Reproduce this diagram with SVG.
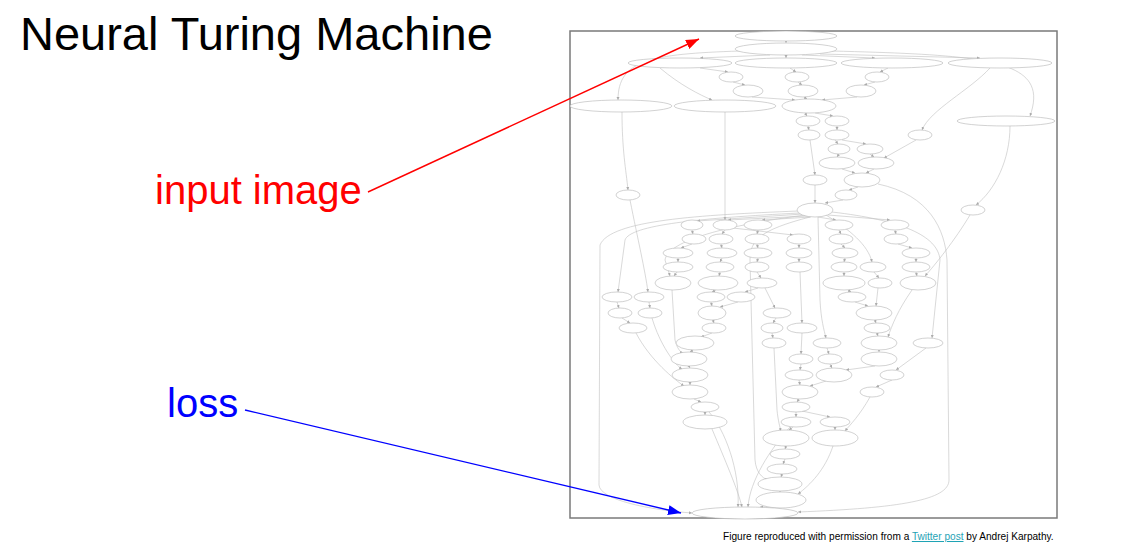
<svg xmlns="http://www.w3.org/2000/svg" width="1143" height="559" viewBox="0 0 1143 559">
<style>
.t{font-family:"Liberation Sans",Arial,sans-serif}
.nd ellipse{fill:#fff;stroke:#b3b3b3;stroke-width:0.6}
.ed path{fill:none;stroke:#c0c0c0;stroke-width:0.6;marker-end:url(#ah)}
</style>
<defs>
<marker id="ah" markerWidth="4" markerHeight="4" refX="3" refY="2" orient="auto" markerUnits="userSpaceOnUse"><path d="M0,0.5 L3,2 L0,3.5z" fill="#aaa"/></marker>
<marker id="ar" markerWidth="14" markerHeight="10" refX="13" refY="5" orient="auto" markerUnits="userSpaceOnUse"><path d="M0,0 L13,5 L0,10z" fill="#ff0000"/></marker>
<marker id="ab" markerWidth="14" markerHeight="10" refX="13" refY="5" orient="auto" markerUnits="userSpaceOnUse"><path d="M0,0 L13,5 L0,10z" fill="#0000ff"/></marker>
</defs>
<rect width="1143" height="559" fill="#fff"/>
<text class="t" x="20" y="50" font-size="47">Neural Turing Machine</text>
<rect x="570" y="31" width="487" height="487" fill="#fff" stroke="#7a7a7a" stroke-width="1.5"/>
<g id="connectors" class="ed">
<path d="M786 41 L786 43"/>
<path d="M770 55 L700 58"/>
<path d="M786 55 L786 58"/>
<path d="M802 55 L875 58"/>
<path d="M820 54 L980 58"/>
<path d="M740 51 C650 54,618 60,618 100"/>
<path d="M832 51 C990 55,1050 60,1030 116"/>
<path d="M700 68 L728 72"/>
<path d="M660 68 C680 85,700 95,712 100"/>
<path d="M790 68 L796 72"/>
<path d="M888 68 L880 72"/>
<path d="M990 68 C970 90,930 110,922 130"/>
<path d="M733 82 L745 85"/>
<path d="M798 82 L802 85"/>
<path d="M875 82 L864 85"/>
<path d="M752 97 L795 100"/>
<path d="M804 97 L807 99"/>
<path d="M857 97 L822 100"/>
<path d="M622 112 C622 150,626 170,628 190"/>
<path d="M725 112 L725 220"/>
<path d="M805 113 L807 116"/>
<path d="M815 113 L833 116"/>
<path d="M808 126 L809 130"/>
<path d="M837 126 L837 130"/>
<path d="M810 140 L815 175"/>
<path d="M835 140 L838 144"/>
<path d="M842 140 L866 144"/>
<path d="M916 140 L884 158"/>
<path d="M839 154 L837 157"/>
<path d="M870 154 L874 157"/>
<path d="M842 169 L855 173"/>
<path d="M874 169 L866 173"/>
<path d="M858 187 L849 190"/>
<path d="M878 184 C930 195,945 230,947 260 L949 480 C949 500,900 508,798 512"/>
<path d="M843 200 L825 203"/>
<path d="M815 185 L815 203"/>
<path d="M1010 126 C1010 160,995 190,976 205"/>
<path d="M970 215 C955 240,935 265,925 276"/>
<path d="M803 214 L697 221"/>
<path d="M808 216 L728 220"/>
<path d="M811 217 L762 220"/>
<path d="M818 217 L836 220"/>
<path d="M828 215 L890 220"/>
<path d="M826 215 C850 230,868 245,872 262"/>
<path d="M798 211 C700 215,610 220,600 245 L599 485 C600 500,650 510,692 513"/>
<path d="M800 213 C700 218,630 225,625 240 L618 292"/>
<path d="M805 215 C730 225,668 240,665 260 L670 276"/>
<path d="M810 217 C760 230,750 240,750 260 L755 460 C756 472,762 478,768 480"/>
<path d="M832 212 C900 220,938 235,940 260 L932 338"/>
<path d="M818 217 L820 300 C821 320,824 330,826 338"/>
<path d="M630 200 C638 240,645 270,648 292"/>
<path d="M692 230 L693 234"/>
<path d="M725 230 L722 234"/>
<path d="M758 230 L757 234"/>
<path d="M733 228 L793 235"/>
<path d="M839 230 L841 234"/>
<path d="M895 230 L896 234"/>
<path d="M692 244 L681 248"/>
<path d="M721 244 L722 248"/>
<path d="M757 244 L758 248"/>
<path d="M799 244 L799 248"/>
<path d="M841 244 L845 248"/>
<path d="M898 244 L912 248"/>
<path d="M678 258 L678 262"/>
<path d="M722 258 L720 262"/>
<path d="M758 258 L757 262"/>
<path d="M799 258 L799 262"/>
<path d="M845 258 L844 262"/>
<path d="M916 258 L916 262"/>
<path d="M677 272 L674 276"/>
<path d="M720 272 L719 276"/>
<path d="M757 272 L761 278"/>
<path d="M844 272 L844 276"/>
<path d="M874 272 L879 278"/>
<path d="M916 272 L917 276"/>
<path d="M800 272 L802 323"/>
<path d="M716 290 L712 292"/>
<path d="M758 288 L745 292"/>
<path d="M765 288 L775 308"/>
<path d="M848 290 L851 292"/>
<path d="M878 288 L876 306"/>
<path d="M912 290 C898 310,892 325,888 337"/>
<path d="M617 302 L619 308"/>
<path d="M649 302 L650 308"/>
<path d="M711 302 L712 306"/>
<path d="M738 302 L720 307"/>
<path d="M855 302 L868 306"/>
<path d="M622 318 L630 323"/>
<path d="M636 333 C650 360,675 380,684 386"/>
<path d="M652 318 C660 345,675 365,682 369"/>
<path d="M672 290 L675 340 C677 348,680 352,683 353"/>
<path d="M713 320 L714 323"/>
<path d="M712 333 L701 337"/>
<path d="M776 318 L773 323"/>
<path d="M772 333 L773 338"/>
<path d="M875 320 L876 323"/>
<path d="M877 333 L878 336"/>
<path d="M774 348 L777 410 C778 420,780 428,781 431"/>
<path d="M802 333 L801 354"/>
<path d="M827 348 L829 354"/>
<path d="M926 348 L896 370"/>
<path d="M693 350 L690 352"/>
<path d="M879 350 L879 352"/>
<path d="M689 366 L690 368"/>
<path d="M801 364 L800 370"/>
<path d="M830 364 L832 368"/>
<path d="M875 366 L846 370"/>
<path d="M690 382 L690 385"/>
<path d="M799 380 L800 385"/>
<path d="M826 381 L810 386"/>
<path d="M892 380 L876 387"/>
<path d="M694 399 L701 402"/>
<path d="M799 399 L797 402"/>
<path d="M870 397 C860 415,850 425,845 431"/>
<path d="M705 412 L705 415"/>
<path d="M796 412 L796 417"/>
<path d="M802 411 L830 417"/>
<path d="M709 412 C725 430,740 470,738 507"/>
<path d="M712 429 C725 460,738 490,742 507"/>
<path d="M793 427 L789 430"/>
<path d="M835 427 L835 430"/>
<path d="M790 427 C770 450,750 480,748 507"/>
<path d="M786 446 L785 449"/>
<path d="M785 459 L783 464"/>
<path d="M782 474 L781 477"/>
<path d="M780 491 L780 492"/>
<path d="M833 446 C825 470,810 485,798 494"/>
<path d="M772 507 L760 507"/>
</g>
<g class="nd">
<g id="a1"><ellipse cx="786" cy="36" rx="51" ry="5"/></g>
<g id="a2"><ellipse cx="786" cy="49" rx="51" ry="6"/></g>
<g id="b1"><ellipse cx="680" cy="63" rx="52" ry="5"/></g>
<g id="b2"><ellipse cx="786" cy="63" rx="51" ry="5"/></g>
<g id="b3"><ellipse cx="892" cy="63" rx="51" ry="5"/></g>
<g id="b4"><ellipse cx="1000" cy="63" rx="52" ry="5"/></g>
<g id="c1"><ellipse cx="731" cy="77" rx="12" ry="5"/></g>
<g id="c2"><ellipse cx="797" cy="77" rx="12" ry="5"/></g>
<g id="c3"><ellipse cx="877" cy="77" rx="12" ry="5"/></g>
<g id="d1"><ellipse cx="748" cy="91" rx="15" ry="6"/></g>
<g id="d2"><ellipse cx="803" cy="91" rx="15" ry="6"/></g>
<g id="d3"><ellipse cx="861" cy="91" rx="15" ry="6"/></g>
<g id="e1"><ellipse cx="621" cy="106" rx="51" ry="6"/></g>
<g id="e2"><ellipse cx="725" cy="106" rx="51" ry="6"/></g>
<g id="e3"><ellipse cx="809" cy="106" rx="27" ry="7"/></g>
<g id="f1"><ellipse cx="808" cy="121" rx="12" ry="5"/></g>
<g id="f2"><ellipse cx="837" cy="121" rx="12" ry="5"/></g>
<g id="f3"><ellipse cx="1006" cy="121" rx="49" ry="5"/></g>
<g id="g1"><ellipse cx="809" cy="135" rx="11" ry="5"/></g>
<g id="g2"><ellipse cx="837" cy="135" rx="12" ry="5"/></g>
<g id="g3"><ellipse cx="920" cy="135" rx="12" ry="5"/></g>
<g id="h1"><ellipse cx="839" cy="149" rx="11" ry="5"/></g>
<g id="h2"><ellipse cx="870" cy="149" rx="13" ry="5"/></g>
<g id="i1"><ellipse cx="837" cy="163" rx="18" ry="6"/></g>
<g id="i2"><ellipse cx="876" cy="163" rx="18" ry="6"/></g>
<g id="j1"><ellipse cx="815" cy="180" rx="12" ry="5"/></g>
<g id="j2"><ellipse cx="862" cy="180" rx="18" ry="7"/></g>
<g id="k1"><ellipse cx="628" cy="195" rx="12" ry="5"/></g>
<g id="k2"><ellipse cx="846" cy="195" rx="11" ry="5"/></g>
<g id="l1"><ellipse cx="815" cy="210" rx="18" ry="7"/></g>
<g id="l2"><ellipse cx="973" cy="210" rx="12" ry="5"/></g>
<g id="m1"><ellipse cx="692" cy="225" rx="11" ry="5"/></g>
<g id="m2"><ellipse cx="725" cy="225" rx="12" ry="5"/></g>
<g id="m3"><ellipse cx="758" cy="225" rx="14" ry="5"/></g>
<g id="m4"><ellipse cx="839" cy="225" rx="14" ry="5"/></g>
<g id="m5"><ellipse cx="895" cy="225" rx="14" ry="5"/></g>
<g id="o1"><ellipse cx="694" cy="239" rx="12" ry="5"/></g>
<g id="o2"><ellipse cx="721" cy="239" rx="12" ry="5"/></g>
<g id="o3"><ellipse cx="757" cy="239" rx="12" ry="5"/></g>
<g id="o4"><ellipse cx="799" cy="239" rx="12" ry="5"/></g>
<g id="o5"><ellipse cx="841" cy="239" rx="12" ry="5"/></g>
<g id="o6"><ellipse cx="896" cy="239" rx="12" ry="5"/></g>
<g id="p1"><ellipse cx="678" cy="253" rx="15" ry="5"/></g>
<g id="p2"><ellipse cx="722" cy="253" rx="15" ry="5"/></g>
<g id="p3"><ellipse cx="758" cy="253" rx="14" ry="5"/></g>
<g id="p4"><ellipse cx="799" cy="253" rx="13" ry="5"/></g>
<g id="p5"><ellipse cx="845" cy="253" rx="13" ry="5"/></g>
<g id="p6"><ellipse cx="916" cy="253" rx="14" ry="5"/></g>
<g id="q1"><ellipse cx="678" cy="267" rx="15" ry="5"/></g>
<g id="q2"><ellipse cx="720" cy="267" rx="14" ry="5"/></g>
<g id="q3"><ellipse cx="757" cy="267" rx="12" ry="5"/></g>
<g id="q4"><ellipse cx="799" cy="267" rx="13" ry="5"/></g>
<g id="q5"><ellipse cx="844" cy="267" rx="13" ry="5"/></g>
<g id="q6"><ellipse cx="873" cy="267" rx="13" ry="5"/></g>
<g id="q7"><ellipse cx="916" cy="267" rx="14" ry="5"/></g>
<g id="r1"><ellipse cx="673" cy="283" rx="18" ry="7"/></g>
<g id="r2"><ellipse cx="718" cy="283" rx="20" ry="7"/></g>
<g id="r3"><ellipse cx="762" cy="283" rx="15" ry="5"/></g>
<g id="r4"><ellipse cx="844" cy="283" rx="21" ry="7"/></g>
<g id="r5"><ellipse cx="880" cy="283" rx="12" ry="5"/></g>
<g id="r6"><ellipse cx="918" cy="283" rx="18" ry="7"/></g>
<g id="s1"><ellipse cx="617" cy="297" rx="15" ry="5"/></g>
<g id="s2"><ellipse cx="649" cy="297" rx="15" ry="5"/></g>
<g id="s3"><ellipse cx="711" cy="297" rx="14" ry="5"/></g>
<g id="s4"><ellipse cx="741" cy="297" rx="14" ry="5"/></g>
<g id="s5"><ellipse cx="852" cy="297" rx="14" ry="5"/></g>
<g id="t1"><ellipse cx="620" cy="313" rx="12" ry="5"/></g>
<g id="t2"><ellipse cx="650" cy="313" rx="12" ry="5"/></g>
<g id="t3"><ellipse cx="712" cy="313" rx="14" ry="7"/></g>
<g id="t4"><ellipse cx="777" cy="313" rx="14" ry="5"/></g>
<g id="t5"><ellipse cx="874" cy="313" rx="18" ry="7"/></g>
<g id="u1"><ellipse cx="633" cy="328" rx="14" ry="5"/></g>
<g id="u2"><ellipse cx="714" cy="328" rx="12" ry="5"/></g>
<g id="u3"><ellipse cx="772" cy="328" rx="11" ry="5"/></g>
<g id="u4"><ellipse cx="802" cy="328" rx="15" ry="5"/></g>
<g id="u5"><ellipse cx="877" cy="328" rx="13" ry="5"/></g>
<g id="v1"><ellipse cx="695" cy="343" rx="19" ry="7"/></g>
<g id="v2"><ellipse cx="774" cy="343" rx="12" ry="5"/></g>
<g id="v3"><ellipse cx="827" cy="343" rx="14" ry="5"/></g>
<g id="v4"><ellipse cx="879" cy="343" rx="18" ry="7"/></g>
<g id="v5"><ellipse cx="928" cy="343" rx="15" ry="5"/></g>
<g id="w1"><ellipse cx="689" cy="359" rx="18" ry="7"/></g>
<g id="w2"><ellipse cx="801" cy="359" rx="12" ry="5"/></g>
<g id="w3"><ellipse cx="830" cy="359" rx="12" ry="5"/></g>
<g id="w4"><ellipse cx="879" cy="359" rx="18" ry="7"/></g>
<g id="x1"><ellipse cx="690" cy="375" rx="18" ry="7"/></g>
<g id="x2"><ellipse cx="799" cy="375" rx="14" ry="5"/></g>
<g id="x3"><ellipse cx="834" cy="375" rx="18" ry="7"/></g>
<g id="x4"><ellipse cx="892" cy="375" rx="12" ry="5"/></g>
<g id="y1"><ellipse cx="690" cy="392" rx="18" ry="7"/></g>
<g id="y2"><ellipse cx="800" cy="392" rx="18" ry="7"/></g>
<g id="y3"><ellipse cx="872" cy="392" rx="12" ry="5"/></g>
<g id="z1"><ellipse cx="705" cy="407" rx="14" ry="5"/></g>
<g id="z2"><ellipse cx="796" cy="407" rx="14" ry="5"/></g>
<g id="z3"><ellipse cx="705" cy="422" rx="22" ry="7"/></g>
<g id="z4"><ellipse cx="796" cy="422" rx="15" ry="5"/></g>
<g id="z5"><ellipse cx="835" cy="422" rx="15" ry="5"/></g>
<g id="z6"><ellipse cx="786" cy="438" rx="23" ry="8"/></g>
<g id="z7"><ellipse cx="835" cy="438" rx="23" ry="8"/></g>
<g id="z8"><ellipse cx="785" cy="454" rx="15" ry="5"/></g>
<g id="z9"><ellipse cx="782" cy="469" rx="15" ry="5"/></g>
<g id="z10"><ellipse cx="780" cy="484" rx="22" ry="7"/></g>
<g id="z11"><ellipse cx="781" cy="500" rx="25" ry="8"/></g>
<g id="z12"><ellipse cx="745" cy="513" rx="53" ry="6"/></g>
</g>
<g id="input-label">
<text class="t" x="155" y="204" font-size="40" fill="#ff0000">input image</text>
<path d="M368 192 L699 39" stroke="#ff0000" stroke-width="1.4" fill="none" marker-end="url(#ar)"/>
</g>
<g id="loss-label">
<text class="t" x="167" y="417" font-size="40" fill="#0000ff">loss</text>
<path d="M245 410 L681 513" stroke="#0000ff" stroke-width="1.4" fill="none" marker-end="url(#ab)"/>
</g>
<text class="t" x="723" y="540" font-size="10.1" fill="#000">Figure reproduced with permission from a <tspan fill="#1fa3b5" text-decoration="underline">Twitter post</tspan> by Andrej Karpathy.</text>
</svg>
